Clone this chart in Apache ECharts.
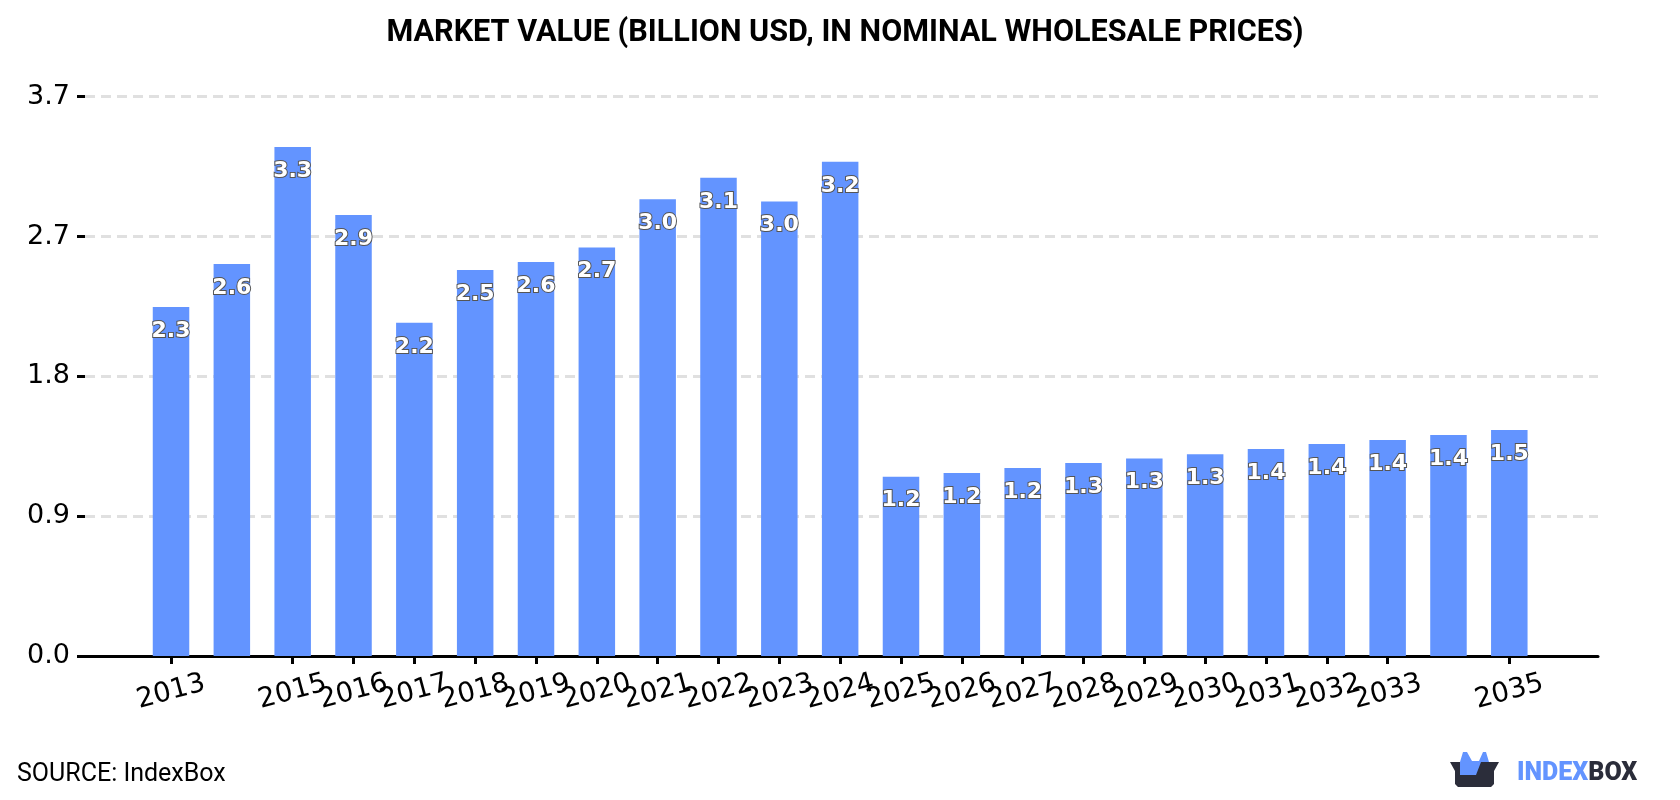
<!DOCTYPE html>
<html>
<head>
<meta charset="utf-8">
<title>Market Value</title>
<script src="https://cdn.jsdelivr.net/npm/echarts@6/dist/echarts.min.js"></script>
<style>
  html, body { margin: 0; padding: 0; background: #fff; }
  #chart { width: 1680px; height: 800px; }
</style>
</head>
<body>
<div id="chart"></div>
<script>
// Yearly market value, billion USD
const years = [2013, 2014, 2015, 2016, 2017, 2018, 2019, 2020, 2021, 2022, 2023, 2024,
               2025, 2026, 2027, 2028, 2029, 2030, 2031, 2032, 2033, 2034, 2035];
const values = [2.284, 2.565, 3.331, 2.886, 2.18, 2.526, 2.578, 2.673, 2.989, 3.129, 2.975, 3.234,
                1.173, 1.198, 1.23, 1.263, 1.292, 1.32, 1.355, 1.387, 1.414, 1.446, 1.479];
const yMax = 3.66;
const yStep = 0.915;

const BLUE = '#6394ff';
const DARK = '#2b2d3a';

const chart = echarts.init(document.getElementById('chart'), null, { renderer: 'canvas' });

chart.setOption({
  animation: false,
  backgroundColor: '#ffffff',
  title: {
    text: 'MARKET VALUE (BILLION USD, IN NOMINAL WHOLESALE PRICES)',
    left: 840,
    top: 13,
    textAlign: 'center',
    textStyle: { fontFamily: 'Roboto', fontWeight: 700, fontSize: 30.6, color: '#000' }
  },
  grid: { left: 85, right: 82, top: 96.7, bottom: 144 },
  xAxis: {
    type: 'value',
    min: 2011.586,
    max: 2036.458,
    splitLine: { show: false },
    axisLine: { show: true, onZero: false, lineStyle: { color: '#000', width: 3 } },
    axisTick: { show: true, length: 8, customValues: years, lineStyle: { color: '#000', width: 3 } },
    axisLabel: {
      customValues: years,
      showMinLabel: true,
      showMaxLabel: true,
      hideOverlap: false,
      rotate: 15,
      align: 'center',
      verticalAlign: 'middle',
      margin: 36,
      fontFamily: 'DejaVu Sans',
      fontSize: 27.4,
      color: '#000',
      formatter: v => String(v)
    }
  },
  yAxis: {
    type: 'value',
    min: 0,
    max: yMax,
    interval: yStep,
    axisLine: { show: false },
    axisTick: { show: true, length: 8, lineStyle: { color: '#000', width: 3 } },
    axisLabel: {
      margin: 15,
      padding: [3, 0, 0, 0],
      fontFamily: 'DejaVu Sans',
      fontSize: 27,
      color: '#000',
      formatter: v => v.toFixed(1)
    },
    splitLine: {
      show: true,
      lineStyle: { color: '#e0e0e0', width: 3, type: [10, 6] }
    }
  },
  series: [{
    type: 'bar',
    data: years.map((y, i) => [y, values[i]]),
    barWidth: 36.5,
    itemStyle: { color: BLUE },
    label: {
      show: true,
      position: 'insideTop',
      distance: 13,
      fontFamily: 'DejaVu Sans',
      fontWeight: 700,
      fontSize: 22,
      color: '#fff',
      textBorderColor: '#555',
      textBorderWidth: 2,
      formatter: p => p.value[1].toFixed(1)
    }
  }],
  graphic: [
    {
      type: 'text', left: 17, top: 762,
      style: { text: 'SOURCE: IndexBox', fontFamily: 'Roboto', fontSize: 25, fill: '#000' }
    },
    {
      // Logo: open box with blue contents
      type: 'group', left: 1450, top: 752,
      children: [
        { type: 'polygon', shape: { points: [[10, 12], [13, 2], [17, 2], [22, 11], [29, 11], [33, 2], [36, 2], [39, 12], [39, 14], [26, 26], [10, 26]] },
          style: { fill: BLUE } },
        { type: 'polygon', shape: { points: [[0, 12], [10, 12], [10, 25], [26, 25], [31, 12], [49, 12], [44, 21], [44, 34], [41, 37], [8, 37], [5, 34], [5, 21]] },
          style: { fill: DARK } }
      ]
    },
    {
      type: 'text', left: 1517, top: 761,
      style: {
        text: '{a|INDEX}{b|BOX}',
        rich: {
          a: { fontFamily: 'Roboto', fontWeight: 900, fontSize: 25, fill: BLUE, color: BLUE },
          b: { fontFamily: 'Roboto', fontWeight: 900, fontSize: 25, fill: DARK, color: DARK }
        }
      }
    }
  ]
});
</script>
</body>
</html>
